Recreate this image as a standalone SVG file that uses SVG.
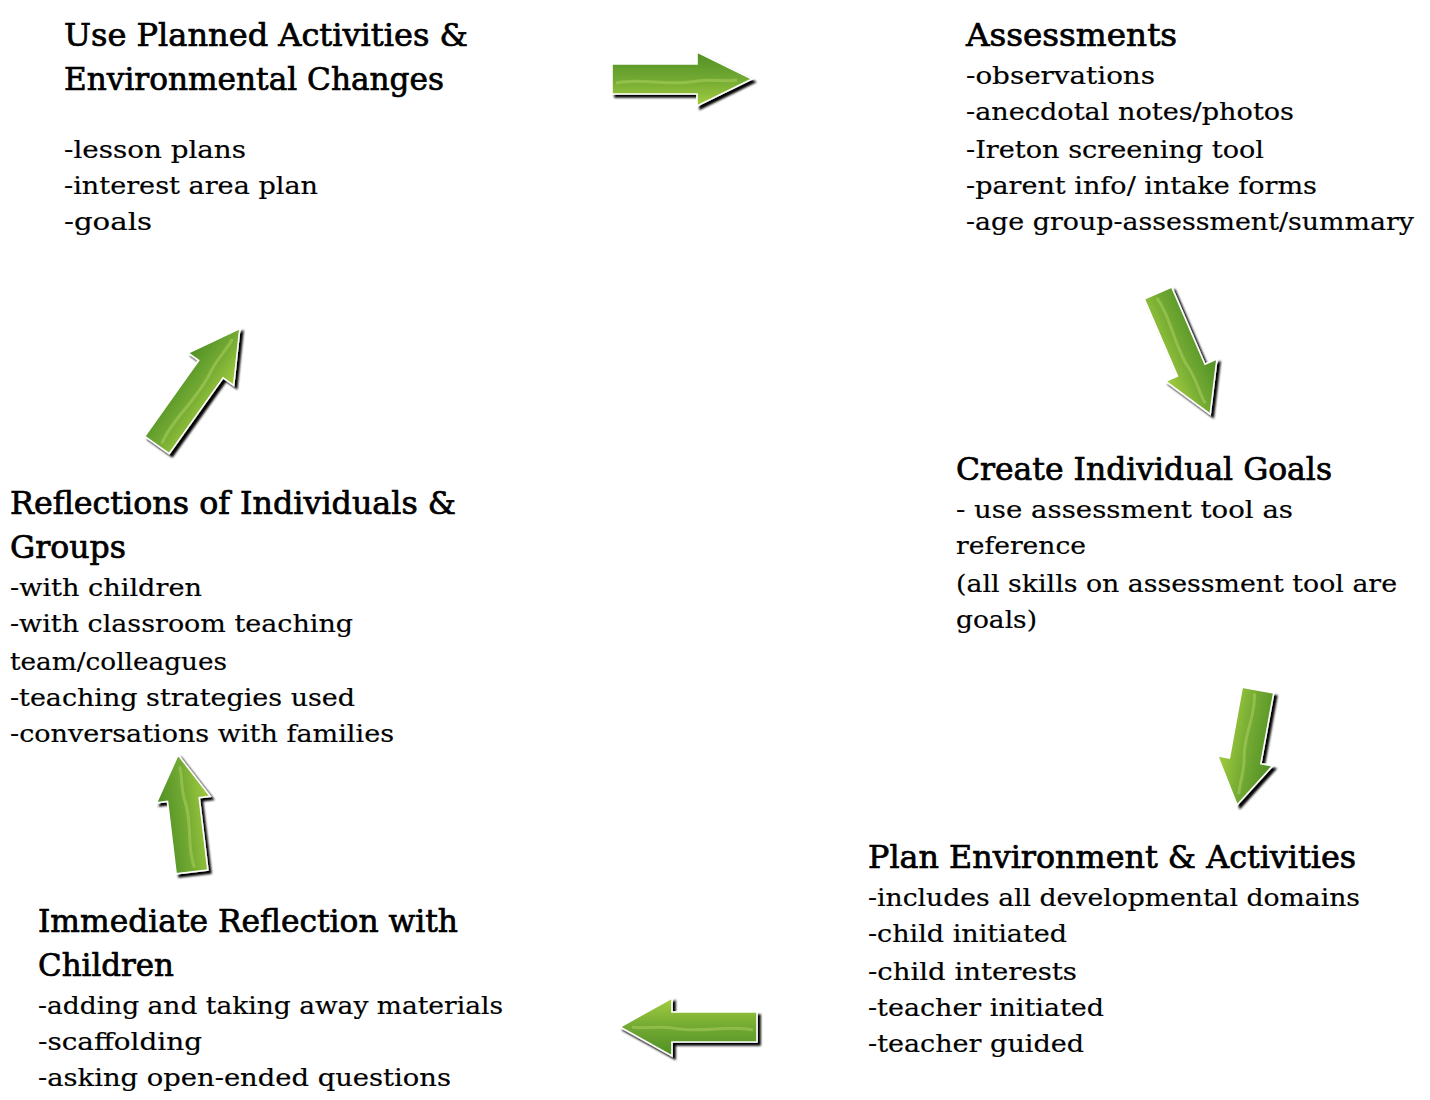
<svg xmlns="http://www.w3.org/2000/svg" width="1430" height="1100" viewBox="0 0 1430 1100">
<defs>
<style>
.t{font-family:"DejaVu Serif","Liberation Serif",serif;font-size:31px;fill:#000;stroke:#000;stroke-width:0.7}
.b{font-family:"DejaVu Serif","Liberation Serif",serif;font-size:25px;fill:#000;stroke:#000;stroke-width:0.2}
.ar{fill:url(#g);stroke:#fff;stroke-width:1.6;stroke-linejoin:miter}
.hl{fill:none;stroke:#c8e27a;stroke-opacity:.35;stroke-width:3}
</style>
<linearGradient id="g" x1="0" y1="0" x2="0" y2="1">
<stop offset="0" stop-color="#4f8f25"/>
<stop offset="0.5" stop-color="#72a932"/>
<stop offset="1" stop-color="#a4cd40"/>
</linearGradient>
<filter id="ds" x="-20%" y="-20%" width="140%" height="140%">
<feDropShadow dx="3" dy="3" stdDeviation="1.3" flood-color="#000" flood-opacity="1"/>
</filter>
</defs>
<rect width="1430" height="1100" fill="#fff"/>

<g id="connectors">
<g id="a1" filter="url(#ds)"><g transform="translate(612,79)"><path class="ar" d="M0,-15 L85,-15 L85,-27 L140,0 L85,27 L85,15 L0,15Z"/><path class="hl" d="M4,4 C30,-2 55,8 85,2 C100,0 115,3 125,1"/></g></g>
<g id="a2" filter="url(#ds)"><g transform="translate(1158,293) rotate(66.7)"><path class="ar" d="M0,-15 L84,-15 L84,-28 L132,0 L84,28 L84,15 L0,15Z"/><path class="hl" d="M4,3 C30,-3 55,7 84,1 C100,-1 112,2 120,0"/></g></g>
<g id="a3" filter="url(#ds)"><g transform="translate(157,445) rotate(-54.6)"><path class="ar" d="M0,-15 L93,-15 L93,-28 L143,0 L93,28 L93,15 L0,15Z"/><path class="hl" d="M4,3 C30,-3 60,7 93,1 C108,-1 122,2 130,0"/></g></g>
<g id="a4" filter="url(#ds)"><g transform="translate(757,1027) rotate(180)"><path class="ar" d="M0,-15 L85,-15 L85,-29 L137,0 L85,29 L85,15 L0,15Z"/><path class="hl" d="M4,-3 C30,3 55,-7 85,-1 C100,1 115,-2 125,0"/></g></g>
<g id="a5" filter="url(#ds)"><g transform="translate(1258,690) rotate(100.3)"><path class="ar" d="M0,-16 L72,-16 L72,-28 L117,0 L72,28 L72,16 L0,16Z"/><path class="hl" d="M4,3 C25,-3 48,7 72,1 C88,-1 100,2 106,0"/></g></g>
<g id="a6" filter="url(#ds)"><g transform="translate(192,872) rotate(-96.8)"><path class="ar" d="M0,-16 L73,-16 L73,-27 L118,0 L73,27 L73,16 L0,16Z"/><path class="hl" d="M4,3 C25,-3 48,7 73,1 C88,-1 100,2 106,0"/></g></g>
</g>

<g id="use-planned">
<text class="t" x="64" y="46" textLength="404" lengthAdjust="spacingAndGlyphs">Use Planned Activities &amp;</text>
<text class="t" x="64" y="90" textLength="380" lengthAdjust="spacingAndGlyphs">Environmental Changes</text>
<text class="b" x="64" y="158" textLength="182" lengthAdjust="spacingAndGlyphs">-lesson plans</text>
<text class="b" x="64" y="194" textLength="254" lengthAdjust="spacingAndGlyphs">-interest area plan</text>
<text class="b" x="64" y="230" textLength="88" lengthAdjust="spacingAndGlyphs">-goals</text>
</g>

<g id="assessments">
<text class="t" x="966" y="46" textLength="211" lengthAdjust="spacingAndGlyphs">Assessments</text>
<text class="b" x="966" y="84" textLength="189" lengthAdjust="spacingAndGlyphs">-observations</text>
<text class="b" x="966" y="120" textLength="328" lengthAdjust="spacingAndGlyphs">-anecdotal notes/photos</text>
<text class="b" x="966" y="158" textLength="298" lengthAdjust="spacingAndGlyphs">-Ireton screening tool</text>
<text class="b" x="966" y="194" textLength="351" lengthAdjust="spacingAndGlyphs">-parent info/ intake forms</text>
<text class="b" x="966" y="230" textLength="448" lengthAdjust="spacingAndGlyphs">-age group-assessment/summary</text>
</g>

<g id="create-goals">
<text class="t" x="956" y="480" textLength="376" lengthAdjust="spacingAndGlyphs">Create Individual Goals</text>
<text class="b" x="956" y="518" textLength="337" lengthAdjust="spacingAndGlyphs">- use assessment tool as</text>
<text class="b" x="956" y="554" textLength="130" lengthAdjust="spacingAndGlyphs">reference</text>
<text class="b" x="956" y="592" textLength="441" lengthAdjust="spacingAndGlyphs">(all skills on assessment tool are</text>
<text class="b" x="956" y="628" textLength="81" lengthAdjust="spacingAndGlyphs">goals)</text>
</g>

<g id="reflections">
<text class="t" x="10" y="514" textLength="446" lengthAdjust="spacingAndGlyphs">Reflections of Individuals &amp;</text>
<text class="t" x="10" y="558" textLength="116" lengthAdjust="spacingAndGlyphs">Groups</text>
<text class="b" x="10" y="596" textLength="192" lengthAdjust="spacingAndGlyphs">-with children</text>
<text class="b" x="10" y="632" textLength="343" lengthAdjust="spacingAndGlyphs">-with classroom teaching</text>
<text class="b" x="10" y="670" textLength="217" lengthAdjust="spacingAndGlyphs">team/colleagues</text>
<text class="b" x="10" y="706" textLength="345" lengthAdjust="spacingAndGlyphs">-teaching strategies used</text>
<text class="b" x="10" y="742" textLength="384" lengthAdjust="spacingAndGlyphs">-conversations with families</text>
</g>

<g id="plan-environment">
<text class="t" x="868" y="868" textLength="488" lengthAdjust="spacingAndGlyphs">Plan Environment &amp; Activities</text>
<text class="b" x="868" y="906" textLength="492" lengthAdjust="spacingAndGlyphs">-includes all developmental domains</text>
<text class="b" x="868" y="942" textLength="199" lengthAdjust="spacingAndGlyphs">-child initiated</text>
<text class="b" x="868" y="980" textLength="209" lengthAdjust="spacingAndGlyphs">-child interests</text>
<text class="b" x="868" y="1016" textLength="236" lengthAdjust="spacingAndGlyphs">-teacher initiated</text>
<text class="b" x="868" y="1052" textLength="216" lengthAdjust="spacingAndGlyphs">-teacher guided</text>
</g>

<g id="immediate-reflection">
<text class="t" x="38" y="932" textLength="420" lengthAdjust="spacingAndGlyphs">Immediate Reflection with</text>
<text class="t" x="38" y="976" textLength="136" lengthAdjust="spacingAndGlyphs">Children</text>
<text class="b" x="38" y="1014" textLength="465" lengthAdjust="spacingAndGlyphs">-adding and taking away materials</text>
<text class="b" x="38" y="1050" textLength="164" lengthAdjust="spacingAndGlyphs">-scaffolding</text>
<text class="b" x="38" y="1086" textLength="413" lengthAdjust="spacingAndGlyphs">-asking open-ended questions</text>
</g>
</svg>
